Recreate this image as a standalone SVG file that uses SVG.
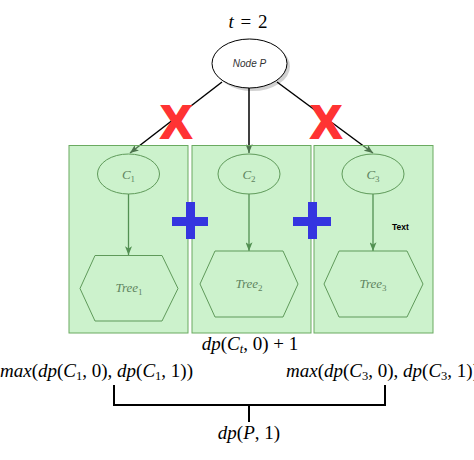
<svg xmlns="http://www.w3.org/2000/svg" width="474" height="460" viewBox="0 0 474 460">
<defs>
<style>
.m{font-family:"Liberation Serif","Times New Roman",serif;font-size:19px;fill:#000}
.i{font-style:italic}
.sub{font-size:12.5px}
.box{fill:#99e699;fill-opacity:0.5;stroke:#6aaa60;stroke-width:1}
.shape{fill:none;stroke:#5f9a5a;stroke-width:1}
.lbl{font-family:"Liberation Serif","Times New Roman",serif;font-style:italic;font-size:13px;fill:#5f845f;text-anchor:middle}
.xm{font-family:"Liberation Sans",Arial,sans-serif;font-weight:bold;font-size:46px;fill:#ff3333;stroke:#ff3333;stroke-width:2;text-anchor:middle}
.plus{fill:#3535e0}
.conn{fill:none;stroke:#000;stroke-width:1.5}
.inner{fill:none;stroke:#0a3a0a;stroke-width:1.3}
</style>
<marker id="ah" viewBox="0 0 10 8" refX="10" refY="4" markerWidth="9" markerHeight="7" markerUnits="userSpaceOnUse" orient="auto">
<path d="M0,0 L10,4 L0,8 L2.5,4 Z" fill="#000"/>
</marker>
<marker id="ahi" viewBox="0 0 10 8" refX="10" refY="4" markerWidth="9" markerHeight="7" markerUnits="userSpaceOnUse" orient="auto">
<path d="M0,0 L10,4 L0,8 L2.5,4 Z" fill="#0a3a0a"/>
</marker>
</defs>
<rect width="474" height="460" fill="#fff"/>

<text class="m" x="248" y="28" text-anchor="middle" word-spacing="2"><tspan class="i">t</tspan> = 2</text>

<g id="connectors">
<path class="conn" d="M222,82 L130,153" marker-end="url(#ah)"/>
<path class="conn" d="M249,88 L249,153" marker-end="url(#ah)"/>
<path class="conn" d="M277,82 L373,153" marker-end="url(#ah)"/>
<path class="inner" d="M128.5,194 L128.5,255" marker-end="url(#ahi)"/>
<path class="inner" d="M249,194 L249,251" marker-end="url(#ahi)"/>
<path class="inner" d="M373,194 L373,251" marker-end="url(#ahi)"/>
</g>

<g id="nodeP">
<ellipse cx="252.5" cy="66.5" rx="37.5" ry="24.5" fill="#000" fill-opacity="0.18"/>
<ellipse cx="249.5" cy="63.5" rx="37.5" ry="24.5" fill="#fff" stroke="#000" stroke-width="1"/>
<text x="249.5" y="67" text-anchor="middle" font-family="'Liberation Sans',Arial,sans-serif" font-style="italic" font-size="10" fill="#333">Node P</text>
</g>

<g id="cross1"><text class="xm" x="176" y="138">X</text></g>
<g id="cross2"><text class="xm" x="326" y="138">X</text></g>

<g id="box1"><rect class="box" x="69" y="145.5" width="119" height="187.5"/></g>
<g id="box2"><rect class="box" x="192" y="145.5" width="119" height="187.5"/></g>
<g id="box3"><rect class="box" x="314" y="145.5" width="119" height="187.5"/></g>

<g id="C1">
<ellipse class="shape" cx="128.5" cy="174" rx="31" ry="20"/>
<text class="lbl" x="128.5" y="179">C<tspan font-size="9" font-style="normal" dy="3">1</tspan></text>
</g>
<g id="C2">
<ellipse class="shape" cx="249" cy="174" rx="31" ry="20"/>
<text class="lbl" x="249" y="179">C<tspan font-size="9" font-style="normal" dy="3">2</tspan></text>
</g>
<g id="C3">
<ellipse class="shape" cx="373" cy="174" rx="31" ry="20"/>
<text class="lbl" x="373" y="179">C<tspan font-size="9" font-style="normal" dy="3">3</tspan></text>
</g>

<g id="Tree1">
<polygon class="shape" points="95,255.5 162,255.5 178,288.5 162,321 95,321 80,288.5"/>
<text class="lbl" x="129" y="292">Tree<tspan font-style="normal" font-size="9" dy="3">1</tspan></text>
</g>
<g id="Tree2">
<polygon class="shape" points="215,251 283,251 298,284 283,317 215,317 200,284"/>
<text class="lbl" x="249" y="288">Tree<tspan font-style="normal" font-size="9" dy="3">2</tspan></text>
</g>
<g id="Tree3">
<polygon class="shape" points="339,251 407,251 423,284 407,317 339,317 324,284"/>
<text class="lbl" x="373" y="288">Tree<tspan font-style="normal" font-size="9" dy="3">3</tspan></text>
</g>

<g id="label-text"><text x="400.5" y="230" text-anchor="middle" font-family="'Liberation Sans',Arial,sans-serif" font-weight="bold" font-size="8.5" fill="#000">Text</text></g>

<g id="plus1"><path class="plus" d="M186,202 H195 V217 H208 V226 H195 V239 H186 V226 H172 V217 H186 Z"/></g>
<g id="plus2"><path class="plus" d="M308,202 H317 V217 H331 V226 H317 V239 H308 V226 H293 V217 H308 Z"/></g>

<g id="formulas">
<text class="m" x="250" y="350" text-anchor="middle"><tspan class="i">dp</tspan>(<tspan class="i">C</tspan><tspan class="i sub" dy="3">t</tspan><tspan dy="-3">, 0) + 1</tspan></text>
<text class="m" x="0" y="377"><tspan class="i">max</tspan>(<tspan class="i">dp</tspan>(<tspan class="i">C</tspan><tspan class="sub" dy="3">1</tspan><tspan dy="-3">, 0), </tspan><tspan class="i">dp</tspan>(<tspan class="i">C</tspan><tspan class="sub" dy="3">1</tspan><tspan dy="-3">, 1))</tspan></text>
<text class="m" x="286" y="377"><tspan class="i">max</tspan>(<tspan class="i">dp</tspan>(<tspan class="i">C</tspan><tspan class="sub" dy="3">3</tspan><tspan dy="-3">, 0), </tspan><tspan class="i">dp</tspan>(<tspan class="i">C</tspan><tspan class="sub" dy="3">3</tspan><tspan dy="-3">, 1))</tspan></text>
<text class="m" x="249" y="439" text-anchor="middle"><tspan class="i">dp</tspan>(<tspan class="i">P</tspan>, 1)</text>
</g>

<g id="bracket">
<path d="M114,385 V405 H385 V385 M249,405 V422" fill="none" stroke="#000" stroke-width="2"/>
</g>
</svg>
